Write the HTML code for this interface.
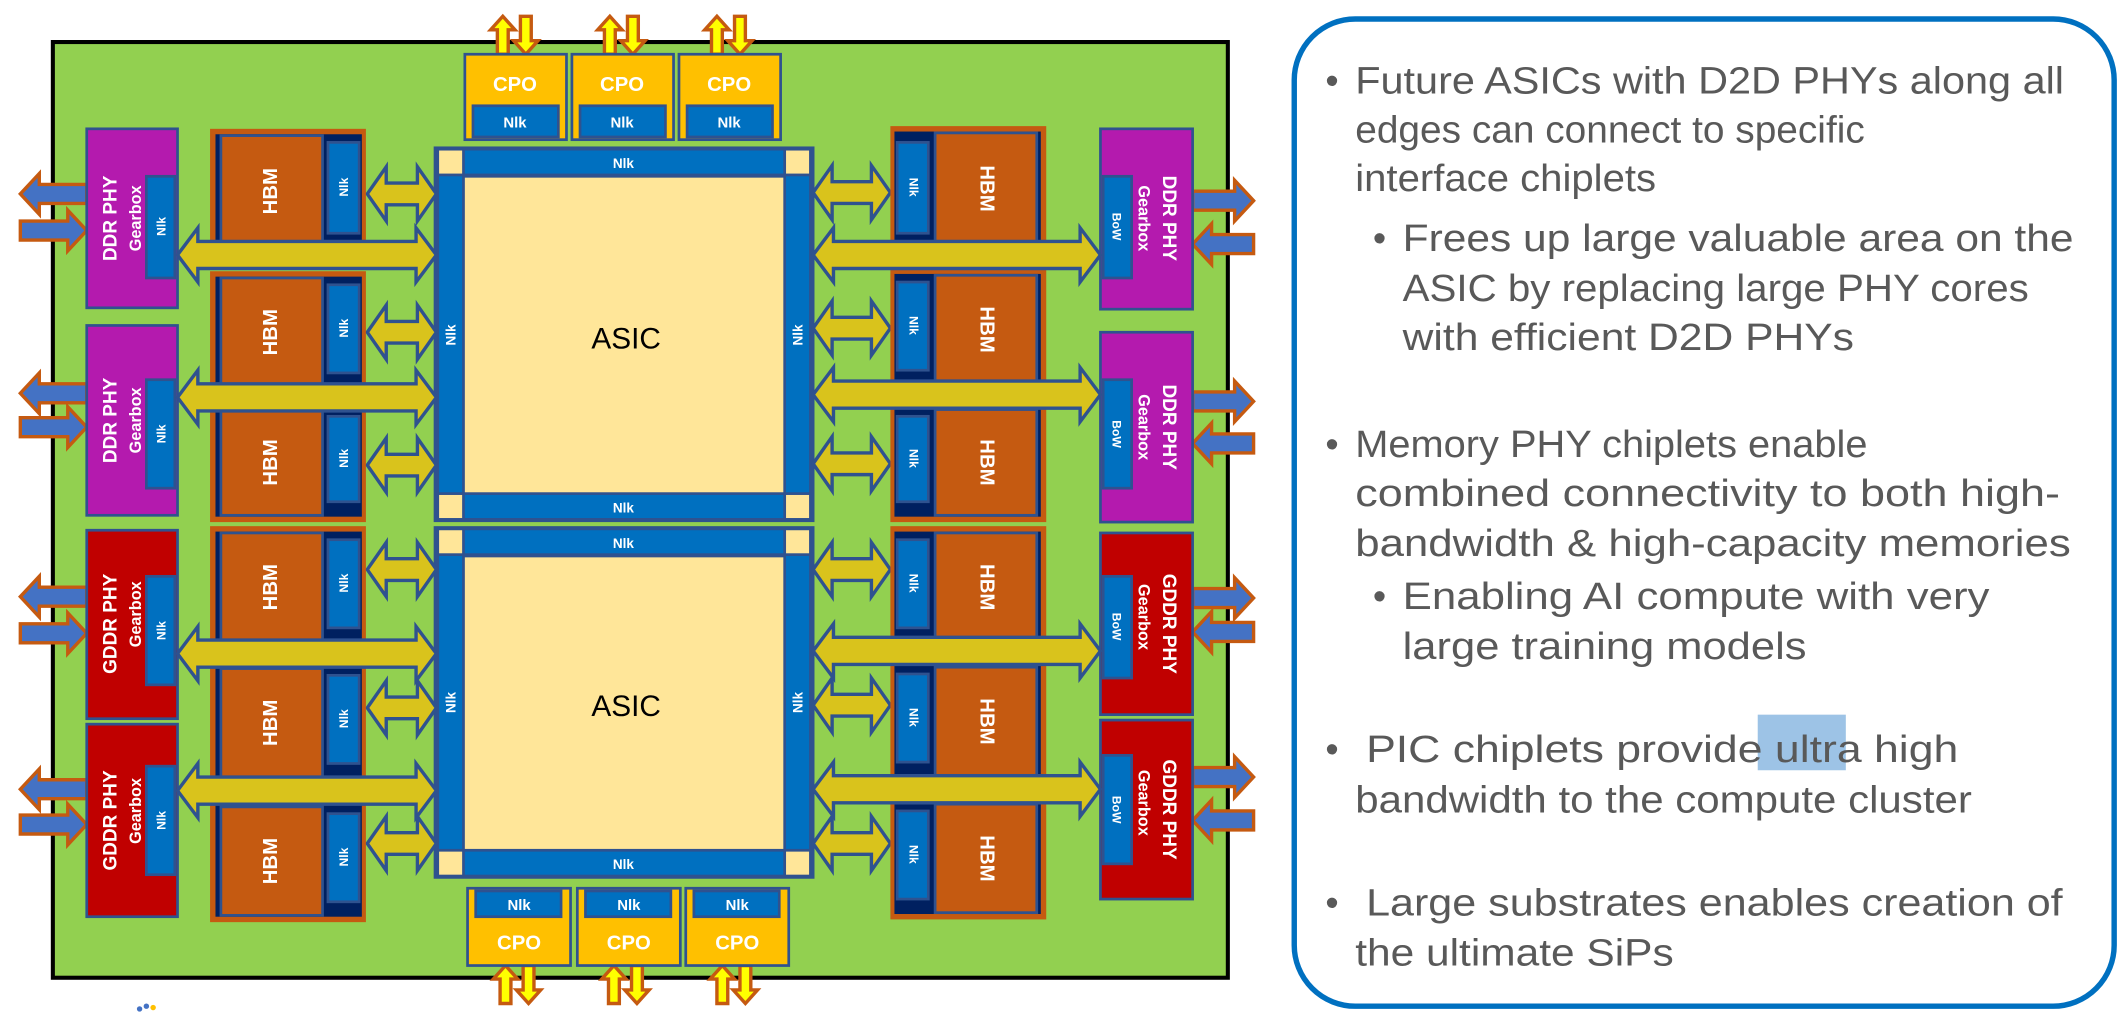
<!DOCTYPE html>
<html><head><meta charset="utf-8"><style>
html,body{margin:0;padding:0;background:#fff;}
svg{display:block;}
text{font-family:"Liberation Sans",sans-serif;}
.w{fill:#fff;font-weight:bold;}
</style></head><body>
<svg width="2125" height="1013" viewBox="0 0 1568 747" preserveAspectRatio="none" xmlns="http://www.w3.org/2000/svg">
<defs>
<path id="bigL" d="M131 0 L146 -20 L146 -10 L307 -10 L307 -20 L322 0 L307 20 L307 10 L146 10 L146 20Z" fill="#d9c31c" stroke="#2f528f" stroke-width="2.5"/>
<path id="bigR" d="M600 0 L615 -20 L615 -10 L797 -10 L797 -20 L812 0 L797 20 L797 10 L615 10 L615 20Z" fill="#d9c31c" stroke="#2f528f" stroke-width="2.5"/>
<path id="smL" d="M271 0 L285 -20 L285 -8 L308 -8 L308 -20 L322 0 L308 20 L308 8 L285 8 L285 20Z" fill="#d9c31c" stroke="#2f528f" stroke-width="2.5"/>
<path id="smR" d="M600 0 L614 -20 L614 -8 L643 -8 L643 -20 L657 0 L643 20 L643 8 L614 8 L614 20Z" fill="#d9c31c" stroke="#2f528f" stroke-width="2.5"/>
<path id="eLL" d="M15 0 L29 -15 L29 -7 L64 -7 L64 7 L29 7 L29 15Z" fill="#4472c4" stroke="#c55a11" stroke-width="2.5"/>
<path id="eLR" d="M64 0 L50 -15 L50 -7 L15 -7 L15 7 L50 7 L50 15Z" fill="#4472c4" stroke="#c55a11" stroke-width="2.5"/>
<path id="eRR" d="M925 0 L911 -15 L911 -7 L880 -7 L880 7 L911 7 L911 15Z" fill="#4472c4" stroke="#c55a11" stroke-width="2.5"/>
<path id="eRL" d="M880 0 L894 -15 L894 -7 L925 -7 L925 7 L894 7 L894 15Z" fill="#4472c4" stroke="#c55a11" stroke-width="2.5"/>
<path id="up" d="M0 12 L9 22 L4 22 L4 40 L-4 40 L-4 22 L-9 22Z" fill="#ffff00" stroke="#c55a11" stroke-width="2.5"/>
<path id="dn" d="M0 40 L9 30 L4 30 L4 12 L-4 12 L-4 30 L-9 30Z" fill="#ffff00" stroke="#c55a11" stroke-width="2.5"/>
</defs>

<!-- board -->
<rect x="39" y="31" width="867" height="690" fill="#92d050" stroke="#000" stroke-width="3"/>

<!-- edge arrows -->
<use href="#eLL" y="143"/><use href="#eLR" y="170"/>
<use href="#eLL" y="290"/><use href="#eLR" y="315"/>
<use href="#eLL" y="440"/><use href="#eLR" y="467"/>
<use href="#eLL" y="582"/><use href="#eLR" y="608"/>
<use href="#eRR" y="148"/><use href="#eRL" y="180"/>
<use href="#eRR" y="296"/><use href="#eRL" y="327"/>
<use href="#eRR" y="441"/><use href="#eRL" y="466"/>
<use href="#eRR" y="573"/><use href="#eRL" y="605"/>

<!-- CPO arrows -->
<use href="#up" x="371"/><use href="#dn" x="388"/>
<use href="#up" x="450"/><use href="#dn" x="467"/>
<use href="#up" x="529"/><use href="#dn" x="546"/>
<use href="#up" x="373" y="700"/><use href="#dn" x="390" y="700"/>
<use href="#up" x="453" y="700"/><use href="#dn" x="470" y="700"/>
<use href="#up" x="533" y="700"/><use href="#dn" x="550" y="700"/>

<!-- top CPOs -->
<g stroke="#2f528f" stroke-width="2">
<rect x="343" y="40" width="75" height="63" fill="#ffc000"/>
<rect x="422" y="40" width="75" height="63" fill="#ffc000"/>
<rect x="501" y="40" width="75" height="63" fill="#ffc000"/>
<rect x="349" y="78" width="63" height="23" fill="#0070c0"/>
<rect x="428" y="78" width="63" height="23" fill="#0070c0"/>
<rect x="507" y="78" width="63" height="23" fill="#0070c0"/>
<rect x="345" y="655" width="76" height="57" fill="#ffc000"/>
<rect x="426" y="655" width="76" height="57" fill="#ffc000"/>
<rect x="506" y="655" width="76" height="57" fill="#ffc000"/>
<rect x="351" y="657" width="63" height="19" fill="#0070c0"/>
<rect x="432" y="657" width="63" height="19" fill="#0070c0"/>
<rect x="512" y="657" width="63" height="19" fill="#0070c0"/>
</g>
<g class="w" text-anchor="middle">
<text x="380" y="67" font-size="15">CPO</text>
<text x="459" y="67" font-size="15">CPO</text>
<text x="538" y="67" font-size="15">CPO</text>
<text x="380" y="94" font-size="11">Nlk</text>
<text x="459" y="94" font-size="11">Nlk</text>
<text x="538" y="94" font-size="11">Nlk</text>
<text x="383" y="671" font-size="11">Nlk</text>
<text x="464" y="671" font-size="11">Nlk</text>
<text x="544" y="671" font-size="11">Nlk</text>
<text x="383" y="700" font-size="15">CPO</text>
<text x="464" y="700" font-size="15">CPO</text>
<text x="544" y="700" font-size="15">CPO</text>
</g>

<!-- ASICs -->
<g>
<rect x="320" y="108" width="281" height="277" fill="#2f528f"/>
<rect x="324" y="111" width="17" height="17" fill="#ffe699"/>
<rect x="580" y="111" width="17" height="17" fill="#ffe699"/>
<rect x="324" y="365" width="17" height="17" fill="#ffe699"/>
<rect x="580" y="365" width="17" height="17" fill="#ffe699"/>
<rect x="343" y="111" width="235" height="17" fill="#0070c0"/>
<rect x="343" y="365" width="235" height="17" fill="#0070c0"/>
<rect x="324" y="130" width="17" height="233" fill="#0070c0"/>
<rect x="580" y="130" width="17" height="233" fill="#0070c0"/>
<rect x="343" y="131" width="235" height="232" fill="#ffe699"/>

<rect x="320" y="388" width="281" height="260" fill="#2f528f"/>
<rect x="324" y="391" width="17" height="17" fill="#ffe699"/>
<rect x="580" y="391" width="17" height="17" fill="#ffe699"/>
<rect x="324" y="628" width="17" height="17" fill="#ffe699"/>
<rect x="580" y="628" width="17" height="17" fill="#ffe699"/>
<rect x="343" y="391" width="235" height="17" fill="#0070c0"/>
<rect x="343" y="628" width="235" height="17" fill="#0070c0"/>
<rect x="324" y="410" width="17" height="216" fill="#0070c0"/>
<rect x="580" y="410" width="17" height="216" fill="#0070c0"/>
<rect x="343" y="411" width="235" height="215" fill="#ffe699"/>
</g>
<g class="w" text-anchor="middle" font-size="10">
<text x="460" y="124">Nlk</text>
<text x="460" y="378">Nlk</text>
<text x="460" y="404">Nlk</text>
<text x="460" y="641">Nlk</text>
<text transform="translate(336,247) rotate(-90)">Nlk</text>
<text transform="translate(592,247) rotate(-90)">Nlk</text>
<text transform="translate(336,518) rotate(-90)">Nlk</text>
<text transform="translate(592,518) rotate(-90)">Nlk</text>
</g>
<text x="462" y="257" font-size="22" text-anchor="middle" fill="#000">ASIC</text>
<text x="462" y="528" font-size="22" text-anchor="middle" fill="#000">ASIC</text>

<!-- left DDR / GDDR -->
<g stroke="#2f528f" stroke-width="2">
<rect x="64" y="95" width="67" height="132" fill="#b41aae"/>
<rect x="64" y="240" width="67" height="140" fill="#b41aae"/>
<rect x="64" y="391" width="67" height="139" fill="#c00000"/>
<rect x="64" y="534" width="67" height="142" fill="#c00000"/>
<rect x="108" y="130" width="21" height="75" fill="#0070c0"/>
<rect x="108" y="280" width="21" height="80" fill="#0070c0"/>
<rect x="108" y="425" width="21" height="80" fill="#0070c0"/>
<rect x="108" y="565" width="21" height="80" fill="#0070c0"/>
<rect x="812" y="95" width="68" height="133" fill="#b41aae"/>
<rect x="812" y="245" width="68" height="140" fill="#b41aae"/>
<rect x="812" y="393" width="68" height="134" fill="#c00000"/>
<rect x="812" y="531" width="68" height="132" fill="#c00000"/>
<rect x="814" y="130" width="21" height="75" fill="#0070c0"/>
<rect x="814" y="280" width="21" height="80" fill="#0070c0"/>
<rect x="814" y="425" width="21" height="75" fill="#0070c0"/>
<rect x="814" y="557" width="21" height="80" fill="#0070c0"/>
</g>
<g class="w" text-anchor="middle">
<text transform="translate(86,161) rotate(-90)" font-size="14">DDR PHY</text>
<text transform="translate(104,161) rotate(-90)" font-size="12">Gearbox</text>
<text transform="translate(122,167) rotate(-90)" font-size="9">Nlk</text>
<text transform="translate(86,310) rotate(-90)" font-size="14">DDR PHY</text>
<text transform="translate(104,310) rotate(-90)" font-size="12">Gearbox</text>
<text transform="translate(122,320) rotate(-90)" font-size="9">Nlk</text>
<text transform="translate(86,460) rotate(-90)" font-size="14">GDDR PHY</text>
<text transform="translate(104,453) rotate(-90)" font-size="12">Gearbox</text>
<text transform="translate(122,465) rotate(-90)" font-size="9">Nlk</text>
<text transform="translate(86,605) rotate(-90)" font-size="14">GDDR PHY</text>
<text transform="translate(104,598) rotate(-90)" font-size="12">Gearbox</text>
<text transform="translate(122,605) rotate(-90)" font-size="9">Nlk</text>

<text transform="translate(858,161) rotate(90)" font-size="14">DDR PHY</text>
<text transform="translate(840,161) rotate(90)" font-size="12">Gearbox</text>
<text transform="translate(821,167) rotate(90)" font-size="9">BoW</text>
<text transform="translate(858,315) rotate(90)" font-size="14">DDR PHY</text>
<text transform="translate(840,315) rotate(90)" font-size="12">Gearbox</text>
<text transform="translate(821,320) rotate(90)" font-size="9">BoW</text>
<text transform="translate(858,460) rotate(90)" font-size="14">GDDR PHY</text>
<text transform="translate(840,455) rotate(90)" font-size="12">Gearbox</text>
<text transform="translate(821,462) rotate(90)" font-size="9">BoW</text>
<text transform="translate(858,597) rotate(90)" font-size="14">GDDR PHY</text>
<text transform="translate(840,592) rotate(90)" font-size="12">Gearbox</text>
<text transform="translate(821,597) rotate(90)" font-size="9">BoW</text>
</g>

<!-- small arrows -->
<use href="#smL" y="143"/><use href="#smL" y="245"/><use href="#smL" y="343"/>
<use href="#smL" y="420"/><use href="#smL" y="522"/><use href="#smL" y="622"/>
<use href="#smR" y="142"/><use href="#smR" y="242"/><use href="#smR" y="342"/>
<use href="#smR" y="420"/><use href="#smR" y="520"/><use href="#smR" y="622"/>

<!-- HBMs left -->
<g stroke-width="2">
<g>
<rect x="155" y="95" width="115" height="92" fill="#c55a11"/><rect x="159" y="99" width="108" height="84" fill="#002060"/>
<rect x="163" y="100" width="75" height="82" fill="#c55a11" stroke="#2f528f"/><rect x="242" y="105" width="23" height="67" fill="#0070c0" stroke="#2f528f"/>
</g>
<g>
<rect x="155" y="200" width="115" height="90" fill="#c55a11"/><rect x="159" y="204" width="108" height="82" fill="#002060"/>
<rect x="163" y="205" width="75" height="80" fill="#c55a11" stroke="#2f528f"/><rect x="242" y="210" width="23" height="65" fill="#0070c0" stroke="#2f528f"/>
</g>
<g>
<rect x="155" y="297" width="115" height="88" fill="#c55a11"/><rect x="159" y="301" width="108" height="80" fill="#002060"/>
<rect x="163" y="302" width="75" height="78" fill="#c55a11" stroke="#2f528f"/><rect x="242" y="307" width="23" height="63" fill="#0070c0" stroke="#2f528f"/>
</g>
<g>
<rect x="155" y="388" width="115" height="90" fill="#c55a11"/><rect x="159" y="392" width="108" height="82" fill="#002060"/>
<rect x="163" y="393" width="75" height="80" fill="#c55a11" stroke="#2f528f"/><rect x="242" y="398" width="23" height="65" fill="#0070c0" stroke="#2f528f"/>
</g>
<g>
<rect x="155" y="488" width="115" height="90" fill="#c55a11"/><rect x="159" y="492" width="108" height="82" fill="#002060"/>
<rect x="163" y="493" width="75" height="80" fill="#c55a11" stroke="#2f528f"/><rect x="242" y="498" width="23" height="65" fill="#0070c0" stroke="#2f528f"/>
</g>
<g>
<rect x="155" y="590" width="115" height="90" fill="#c55a11"/><rect x="159" y="594" width="108" height="82" fill="#002060"/>
<rect x="163" y="595" width="75" height="80" fill="#c55a11" stroke="#2f528f"/><rect x="242" y="600" width="23" height="65" fill="#0070c0" stroke="#2f528f"/>
</g>
<!-- right -->
<g>
<rect x="657" y="93" width="115" height="92" fill="#c55a11"/><rect x="660" y="97" width="108" height="84" fill="#002060"/>
<rect x="690" y="98" width="75" height="82" fill="#c55a11" stroke="#2f528f"/><rect x="662" y="105" width="23" height="67" fill="#0070c0" stroke="#2f528f"/>
</g>
<g>
<rect x="657" y="198" width="115" height="90" fill="#c55a11"/><rect x="660" y="202" width="108" height="82" fill="#002060"/>
<rect x="690" y="203" width="75" height="80" fill="#c55a11" stroke="#2f528f"/><rect x="662" y="208" width="23" height="65" fill="#0070c0" stroke="#2f528f"/>
</g>
<g>
<rect x="657" y="297" width="115" height="88" fill="#c55a11"/><rect x="660" y="301" width="108" height="80" fill="#002060"/>
<rect x="690" y="302" width="75" height="78" fill="#c55a11" stroke="#2f528f"/><rect x="662" y="307" width="23" height="63" fill="#0070c0" stroke="#2f528f"/>
</g>
<g>
<rect x="657" y="388" width="115" height="90" fill="#c55a11"/><rect x="660" y="392" width="108" height="82" fill="#002060"/>
<rect x="690" y="393" width="75" height="80" fill="#c55a11" stroke="#2f528f"/><rect x="662" y="398" width="23" height="65" fill="#0070c0" stroke="#2f528f"/>
</g>
<g>
<rect x="657" y="487" width="115" height="90" fill="#c55a11"/><rect x="660" y="491" width="108" height="82" fill="#002060"/>
<rect x="690" y="492" width="75" height="80" fill="#c55a11" stroke="#2f528f"/><rect x="662" y="497" width="23" height="65" fill="#0070c0" stroke="#2f528f"/>
</g>
<g>
<rect x="657" y="588" width="115" height="90" fill="#c55a11"/><rect x="660" y="592" width="108" height="82" fill="#002060"/>
<rect x="690" y="593" width="75" height="80" fill="#c55a11" stroke="#2f528f"/><rect x="662" y="598" width="23" height="65" fill="#0070c0" stroke="#2f528f"/>
</g>
</g>
<g class="w" text-anchor="middle" dominant-baseline="central">
<text transform="translate(200,141) rotate(-90)" font-size="15">HBM</text>
<text transform="translate(200,245) rotate(-90)" font-size="15">HBM</text>
<text transform="translate(200,341) rotate(-90)" font-size="15">HBM</text>
<text transform="translate(200,433) rotate(-90)" font-size="15">HBM</text>
<text transform="translate(200,533) rotate(-90)" font-size="15">HBM</text>
<text transform="translate(200,635) rotate(-90)" font-size="15">HBM</text>
<text transform="translate(254,138) rotate(-90)" font-size="9">Nlk</text>
<text transform="translate(254,242) rotate(-90)" font-size="9">Nlk</text>
<text transform="translate(254,338) rotate(-90)" font-size="9">Nlk</text>
<text transform="translate(254,430) rotate(-90)" font-size="9">Nlk</text>
<text transform="translate(254,530) rotate(-90)" font-size="9">Nlk</text>
<text transform="translate(254,632) rotate(-90)" font-size="9">Nlk</text>
<text transform="translate(728,139) rotate(90)" font-size="15">HBM</text>
<text transform="translate(728,243) rotate(90)" font-size="15">HBM</text>
<text transform="translate(728,341) rotate(90)" font-size="15">HBM</text>
<text transform="translate(728,433) rotate(90)" font-size="15">HBM</text>
<text transform="translate(728,532) rotate(90)" font-size="15">HBM</text>
<text transform="translate(728,633) rotate(90)" font-size="15">HBM</text>
<text transform="translate(674,138) rotate(90)" font-size="9">Nlk</text>
<text transform="translate(674,240) rotate(90)" font-size="9">Nlk</text>
<text transform="translate(674,338) rotate(90)" font-size="9">Nlk</text>
<text transform="translate(674,430) rotate(90)" font-size="9">Nlk</text>
<text transform="translate(674,529) rotate(90)" font-size="9">Nlk</text>
<text transform="translate(674,630) rotate(90)" font-size="9">Nlk</text>
</g>

<!-- big arrows -->
<use href="#bigL" y="188"/><use href="#bigL" y="293"/><use href="#bigL" y="482"/><use href="#bigL" y="583"/>
<use href="#bigR" y="188"/><use href="#bigR" y="291"/><use href="#bigR" y="480"/><use href="#bigR" y="582"/>

<!-- logo dots -->
<circle cx="103" cy="744" r="2" fill="#4472c4"/><circle cx="108" cy="742" r="2" fill="#4472c4"/><circle cx="113" cy="743" r="2" fill="#ffc000"/>

<!-- right panel -->
<rect x="955" y="14" width="605" height="728" rx="45" ry="45" fill="#fff" stroke="#0070c0" stroke-width="4"/>
<rect x="1297" y="527" width="65" height="41" fill="#9dc3e6"/>
<g fill="#595959" font-size="28">
<text x="978" y="69">•</text>
<text x="1000" y="69" textLength="523" lengthAdjust="spacingAndGlyphs">Future ASICs with D2D PHYs along all</text>
<text x="1000" y="105" textLength="376" lengthAdjust="spacingAndGlyphs">edges can connect to specific</text>
<text x="1000" y="141" textLength="222" lengthAdjust="spacingAndGlyphs">interface chiplets</text>
<text x="1013" y="185">•</text>
<text x="1035" y="185" textLength="495" lengthAdjust="spacingAndGlyphs">Frees up large valuable area on the</text>
<text x="1035" y="222" textLength="462" lengthAdjust="spacingAndGlyphs">ASIC by replacing large PHY cores</text>
<text x="1035" y="258" textLength="333" lengthAdjust="spacingAndGlyphs">with efficient D2D PHYs</text>
<text x="978" y="337">•</text>
<text x="1000" y="337" textLength="378" lengthAdjust="spacingAndGlyphs">Memory PHY chiplets enable</text>
<text x="1000" y="373" textLength="520" lengthAdjust="spacingAndGlyphs">combined connectivity to both high-</text>
<text x="1000" y="410" textLength="528" lengthAdjust="spacingAndGlyphs">bandwidth &amp; high-capacity memories</text>
<text x="1013" y="449">•</text>
<text x="1035" y="449" textLength="433" lengthAdjust="spacingAndGlyphs">Enabling AI compute with very</text>
<text x="1035" y="486" textLength="298" lengthAdjust="spacingAndGlyphs">large training models</text>
<text x="978" y="562">•</text>
<text x="1008" y="562" textLength="437" lengthAdjust="spacingAndGlyphs">PIC chiplets provide ultra high</text>
<text x="1000" y="599" textLength="455" lengthAdjust="spacingAndGlyphs">bandwidth to the compute cluster</text>
<text x="978" y="675">•</text>
<text x="1008" y="675" textLength="514" lengthAdjust="spacingAndGlyphs">Large substrates enables creation of</text>
<text x="1000" y="712" textLength="235" lengthAdjust="spacingAndGlyphs">the ultimate SiPs</text>
</g>
</svg>
</body></html>
